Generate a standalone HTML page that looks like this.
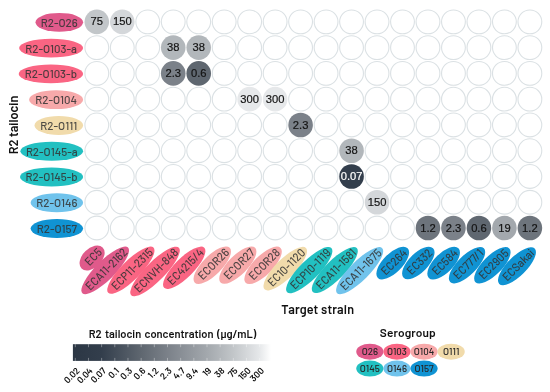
<!DOCTYPE html>
<html><head><meta charset="utf-8"><style>html,body{margin:0;padding:0;background:#fff;}svg{display:block;}</style></head><body>
<svg width="550" height="392" viewBox="0 0 550 392">
<defs><linearGradient id="cb" x1="0" y1="0" x2="1" y2="0"><stop offset="0" stop-color="#2b3644"></stop><stop offset="0.01211509338717815" stop-color="#2c3745"></stop><stop offset="0.14507824331145883" stop-color="#333e4c"></stop><stop offset="0.3445229681978797" stop-color="#5f6770"></stop><stop offset="0.4774861181221606" stop-color="#7b8189"></stop><stop offset="0.6769308430085815" stop-color="#a3a8ad"></stop><stop offset="0.809893992932862" stop-color="#c2c6c9"></stop><stop offset="0.9428571428571428" stop-color="#e6e8ea"></stop><stop offset="1" stop-color="#ffffff"></stop></linearGradient></defs>
<ellipse cx="59.30" cy="22.35" rx="23.80" ry="9.45" fill="#e05a8b"></ellipse>
<text x="59.30" y="26.74" text-anchor="middle" font-family="Barlow, 'Liberation Sans', sans-serif" font-weight="500" font-size="11.4" fill="#333333" fill-opacity="0.86" textLength="36.98" lengthAdjust="spacingAndGlyphs">R2-O26</text>
<ellipse cx="51.10" cy="48.12" rx="32.00" ry="9.45" fill="#fa6583"></ellipse>
<text x="51.10" y="52.51" text-anchor="middle" font-family="Barlow, 'Liberation Sans', sans-serif" font-weight="500" font-size="11.4" fill="#333333" fill-opacity="0.86" textLength="51.70" lengthAdjust="spacingAndGlyphs">R2-O103-a</text>
<ellipse cx="50.90" cy="73.89" rx="32.20" ry="9.45" fill="#fa6583"></ellipse>
<text x="50.90" y="78.28" text-anchor="middle" font-family="Barlow, 'Liberation Sans', sans-serif" font-weight="500" font-size="11.4" fill="#333333" fill-opacity="0.86" textLength="52.11" lengthAdjust="spacingAndGlyphs">R2-O103-b</text>
<ellipse cx="56.10" cy="99.66" rx="27.00" ry="9.45" fill="#f7a9aa"></ellipse>
<text x="56.10" y="104.05" text-anchor="middle" font-family="Barlow, 'Liberation Sans', sans-serif" font-weight="500" font-size="11.4" fill="#333333" fill-opacity="0.86" textLength="41.78" lengthAdjust="spacingAndGlyphs">R2-O104</text>
<ellipse cx="58.80" cy="125.43" rx="24.30" ry="9.45" fill="#f1dbab"></ellipse>
<text x="58.80" y="129.82" text-anchor="middle" font-family="Barlow, 'Liberation Sans', sans-serif" font-weight="500" font-size="11.4" fill="#333333" fill-opacity="0.86" textLength="36.95" lengthAdjust="spacingAndGlyphs">R2-O111</text>
<ellipse cx="51.75" cy="151.20" rx="31.35" ry="9.45" fill="#22c0c1"></ellipse>
<text x="51.75" y="155.59" text-anchor="middle" font-family="Barlow, 'Liberation Sans', sans-serif" font-weight="500" font-size="11.4" fill="#333333" fill-opacity="0.86" textLength="51.73" lengthAdjust="spacingAndGlyphs">R2-O145-a</text>
<ellipse cx="51.55" cy="176.97" rx="31.55" ry="9.45" fill="#22c0c1"></ellipse>
<text x="51.55" y="181.36" text-anchor="middle" font-family="Barlow, 'Liberation Sans', sans-serif" font-weight="500" font-size="11.4" fill="#333333" fill-opacity="0.86" textLength="52.14" lengthAdjust="spacingAndGlyphs">R2-O145-b</text>
<ellipse cx="56.85" cy="202.74" rx="26.25" ry="9.45" fill="#70c3ec"></ellipse>
<text x="56.85" y="207.13" text-anchor="middle" font-family="Barlow, 'Liberation Sans', sans-serif" font-weight="500" font-size="11.4" fill="#333333" fill-opacity="0.86" textLength="41.28" lengthAdjust="spacingAndGlyphs">R2-O146</text>
<ellipse cx="56.85" cy="228.51" rx="26.25" ry="9.45" fill="#1093d3"></ellipse>
<text x="56.85" y="232.90" text-anchor="middle" font-family="Barlow, 'Liberation Sans', sans-serif" font-weight="500" font-size="11.4" fill="#333333" fill-opacity="0.86" textLength="40.28" lengthAdjust="spacingAndGlyphs">R2-O157</text>
<circle cx="96.80" cy="21.85" r="12.3" fill="#c2c6c9"></circle>
<text x="96.80" y="25.45" text-anchor="middle" font-family="'Liberation Sans', Arial, sans-serif" font-size="11.2" fill="#141414" stroke="#141414" stroke-width="0.2">75</text>
<circle cx="122.28" cy="21.85" r="12.3" fill="#d4d7da"></circle>
<text x="122.28" y="25.45" text-anchor="middle" font-family="'Liberation Sans', Arial, sans-serif" font-size="11.2" fill="#141414" stroke="#141414" stroke-width="0.2">150</text>
<circle cx="147.75" cy="21.85" r="11.9" fill="#fff" stroke="#dbe1e4" stroke-width="1.1"></circle>
<circle cx="173.23" cy="21.85" r="11.9" fill="#fff" stroke="#dbe1e4" stroke-width="1.1"></circle>
<circle cx="198.70" cy="21.85" r="11.9" fill="#fff" stroke="#dbe1e4" stroke-width="1.1"></circle>
<circle cx="224.18" cy="21.85" r="11.9" fill="#fff" stroke="#dbe1e4" stroke-width="1.1"></circle>
<circle cx="249.65" cy="21.85" r="11.9" fill="#fff" stroke="#dbe1e4" stroke-width="1.1"></circle>
<circle cx="275.12" cy="21.85" r="11.9" fill="#fff" stroke="#dbe1e4" stroke-width="1.1"></circle>
<circle cx="300.60" cy="21.85" r="11.9" fill="#fff" stroke="#dbe1e4" stroke-width="1.1"></circle>
<circle cx="326.07" cy="21.85" r="11.9" fill="#fff" stroke="#dbe1e4" stroke-width="1.1"></circle>
<circle cx="351.55" cy="21.85" r="11.9" fill="#fff" stroke="#dbe1e4" stroke-width="1.1"></circle>
<circle cx="377.03" cy="21.85" r="11.9" fill="#fff" stroke="#dbe1e4" stroke-width="1.1"></circle>
<circle cx="402.50" cy="21.85" r="11.9" fill="#fff" stroke="#dbe1e4" stroke-width="1.1"></circle>
<circle cx="427.98" cy="21.85" r="11.9" fill="#fff" stroke="#dbe1e4" stroke-width="1.1"></circle>
<circle cx="453.45" cy="21.85" r="11.9" fill="#fff" stroke="#dbe1e4" stroke-width="1.1"></circle>
<circle cx="478.93" cy="21.85" r="11.9" fill="#fff" stroke="#dbe1e4" stroke-width="1.1"></circle>
<circle cx="504.40" cy="21.85" r="11.9" fill="#fff" stroke="#dbe1e4" stroke-width="1.1"></circle>
<circle cx="529.88" cy="21.85" r="11.9" fill="#fff" stroke="#dbe1e4" stroke-width="1.1"></circle>
<circle cx="96.80" cy="47.62" r="11.9" fill="#fff" stroke="#dbe1e4" stroke-width="1.1"></circle>
<circle cx="122.28" cy="47.62" r="11.9" fill="#fff" stroke="#dbe1e4" stroke-width="1.1"></circle>
<circle cx="147.75" cy="47.62" r="11.9" fill="#fff" stroke="#dbe1e4" stroke-width="1.1"></circle>
<circle cx="173.23" cy="47.62" r="12.3" fill="#b2b7bb"></circle>
<text x="173.23" y="51.22" text-anchor="middle" font-family="'Liberation Sans', Arial, sans-serif" font-size="11.2" fill="#141414" stroke="#141414" stroke-width="0.2">38</text>
<circle cx="198.70" cy="47.62" r="12.3" fill="#b2b7bb"></circle>
<text x="198.70" y="51.22" text-anchor="middle" font-family="'Liberation Sans', Arial, sans-serif" font-size="11.2" fill="#141414" stroke="#141414" stroke-width="0.2">38</text>
<circle cx="224.18" cy="47.62" r="11.9" fill="#fff" stroke="#dbe1e4" stroke-width="1.1"></circle>
<circle cx="249.65" cy="47.62" r="11.9" fill="#fff" stroke="#dbe1e4" stroke-width="1.1"></circle>
<circle cx="275.12" cy="47.62" r="11.9" fill="#fff" stroke="#dbe1e4" stroke-width="1.1"></circle>
<circle cx="300.60" cy="47.62" r="11.9" fill="#fff" stroke="#dbe1e4" stroke-width="1.1"></circle>
<circle cx="326.07" cy="47.62" r="11.9" fill="#fff" stroke="#dbe1e4" stroke-width="1.1"></circle>
<circle cx="351.55" cy="47.62" r="11.9" fill="#fff" stroke="#dbe1e4" stroke-width="1.1"></circle>
<circle cx="377.03" cy="47.62" r="11.9" fill="#fff" stroke="#dbe1e4" stroke-width="1.1"></circle>
<circle cx="402.50" cy="47.62" r="11.9" fill="#fff" stroke="#dbe1e4" stroke-width="1.1"></circle>
<circle cx="427.98" cy="47.62" r="11.9" fill="#fff" stroke="#dbe1e4" stroke-width="1.1"></circle>
<circle cx="453.45" cy="47.62" r="11.9" fill="#fff" stroke="#dbe1e4" stroke-width="1.1"></circle>
<circle cx="478.93" cy="47.62" r="11.9" fill="#fff" stroke="#dbe1e4" stroke-width="1.1"></circle>
<circle cx="504.40" cy="47.62" r="11.9" fill="#fff" stroke="#dbe1e4" stroke-width="1.1"></circle>
<circle cx="529.88" cy="47.62" r="11.9" fill="#fff" stroke="#dbe1e4" stroke-width="1.1"></circle>
<circle cx="96.80" cy="73.39" r="11.9" fill="#fff" stroke="#dbe1e4" stroke-width="1.1"></circle>
<circle cx="122.28" cy="73.39" r="11.9" fill="#fff" stroke="#dbe1e4" stroke-width="1.1"></circle>
<circle cx="147.75" cy="73.39" r="11.9" fill="#fff" stroke="#dbe1e4" stroke-width="1.1"></circle>
<circle cx="173.23" cy="73.39" r="12.3" fill="#7b8189"></circle>
<text x="173.23" y="76.99" text-anchor="middle" font-family="'Liberation Sans', Arial, sans-serif" font-size="11.2" fill="#141414" stroke="#141414" stroke-width="0.2">2.3</text>
<circle cx="198.70" cy="73.39" r="12.3" fill="#5f6770"></circle>
<text x="198.70" y="76.99" text-anchor="middle" font-family="'Liberation Sans', Arial, sans-serif" font-size="11.2" fill="#141414" stroke="#141414" stroke-width="0.2">0.6</text>
<circle cx="224.18" cy="73.39" r="11.9" fill="#fff" stroke="#dbe1e4" stroke-width="1.1"></circle>
<circle cx="249.65" cy="73.39" r="11.9" fill="#fff" stroke="#dbe1e4" stroke-width="1.1"></circle>
<circle cx="275.12" cy="73.39" r="11.9" fill="#fff" stroke="#dbe1e4" stroke-width="1.1"></circle>
<circle cx="300.60" cy="73.39" r="11.9" fill="#fff" stroke="#dbe1e4" stroke-width="1.1"></circle>
<circle cx="326.07" cy="73.39" r="11.9" fill="#fff" stroke="#dbe1e4" stroke-width="1.1"></circle>
<circle cx="351.55" cy="73.39" r="11.9" fill="#fff" stroke="#dbe1e4" stroke-width="1.1"></circle>
<circle cx="377.03" cy="73.39" r="11.9" fill="#fff" stroke="#dbe1e4" stroke-width="1.1"></circle>
<circle cx="402.50" cy="73.39" r="11.9" fill="#fff" stroke="#dbe1e4" stroke-width="1.1"></circle>
<circle cx="427.98" cy="73.39" r="11.9" fill="#fff" stroke="#dbe1e4" stroke-width="1.1"></circle>
<circle cx="453.45" cy="73.39" r="11.9" fill="#fff" stroke="#dbe1e4" stroke-width="1.1"></circle>
<circle cx="478.93" cy="73.39" r="11.9" fill="#fff" stroke="#dbe1e4" stroke-width="1.1"></circle>
<circle cx="504.40" cy="73.39" r="11.9" fill="#fff" stroke="#dbe1e4" stroke-width="1.1"></circle>
<circle cx="529.88" cy="73.39" r="11.9" fill="#fff" stroke="#dbe1e4" stroke-width="1.1"></circle>
<circle cx="96.80" cy="99.16" r="11.9" fill="#fff" stroke="#dbe1e4" stroke-width="1.1"></circle>
<circle cx="122.28" cy="99.16" r="11.9" fill="#fff" stroke="#dbe1e4" stroke-width="1.1"></circle>
<circle cx="147.75" cy="99.16" r="11.9" fill="#fff" stroke="#dbe1e4" stroke-width="1.1"></circle>
<circle cx="173.23" cy="99.16" r="11.9" fill="#fff" stroke="#dbe1e4" stroke-width="1.1"></circle>
<circle cx="198.70" cy="99.16" r="11.9" fill="#fff" stroke="#dbe1e4" stroke-width="1.1"></circle>
<circle cx="224.18" cy="99.16" r="11.9" fill="#fff" stroke="#dbe1e4" stroke-width="1.1"></circle>
<circle cx="249.65" cy="99.16" r="12.3" fill="#e6e8ea"></circle>
<text x="249.65" y="102.76" text-anchor="middle" font-family="'Liberation Sans', Arial, sans-serif" font-size="11.2" fill="#141414" stroke="#141414" stroke-width="0.2">300</text>
<circle cx="275.12" cy="99.16" r="12.3" fill="#e6e8ea"></circle>
<text x="275.12" y="102.76" text-anchor="middle" font-family="'Liberation Sans', Arial, sans-serif" font-size="11.2" fill="#141414" stroke="#141414" stroke-width="0.2">300</text>
<circle cx="300.60" cy="99.16" r="11.9" fill="#fff" stroke="#dbe1e4" stroke-width="1.1"></circle>
<circle cx="326.07" cy="99.16" r="11.9" fill="#fff" stroke="#dbe1e4" stroke-width="1.1"></circle>
<circle cx="351.55" cy="99.16" r="11.9" fill="#fff" stroke="#dbe1e4" stroke-width="1.1"></circle>
<circle cx="377.03" cy="99.16" r="11.9" fill="#fff" stroke="#dbe1e4" stroke-width="1.1"></circle>
<circle cx="402.50" cy="99.16" r="11.9" fill="#fff" stroke="#dbe1e4" stroke-width="1.1"></circle>
<circle cx="427.98" cy="99.16" r="11.9" fill="#fff" stroke="#dbe1e4" stroke-width="1.1"></circle>
<circle cx="453.45" cy="99.16" r="11.9" fill="#fff" stroke="#dbe1e4" stroke-width="1.1"></circle>
<circle cx="478.93" cy="99.16" r="11.9" fill="#fff" stroke="#dbe1e4" stroke-width="1.1"></circle>
<circle cx="504.40" cy="99.16" r="11.9" fill="#fff" stroke="#dbe1e4" stroke-width="1.1"></circle>
<circle cx="529.88" cy="99.16" r="11.9" fill="#fff" stroke="#dbe1e4" stroke-width="1.1"></circle>
<circle cx="96.80" cy="124.93" r="11.9" fill="#fff" stroke="#dbe1e4" stroke-width="1.1"></circle>
<circle cx="122.28" cy="124.93" r="11.9" fill="#fff" stroke="#dbe1e4" stroke-width="1.1"></circle>
<circle cx="147.75" cy="124.93" r="11.9" fill="#fff" stroke="#dbe1e4" stroke-width="1.1"></circle>
<circle cx="173.23" cy="124.93" r="11.9" fill="#fff" stroke="#dbe1e4" stroke-width="1.1"></circle>
<circle cx="198.70" cy="124.93" r="11.9" fill="#fff" stroke="#dbe1e4" stroke-width="1.1"></circle>
<circle cx="224.18" cy="124.93" r="11.9" fill="#fff" stroke="#dbe1e4" stroke-width="1.1"></circle>
<circle cx="249.65" cy="124.93" r="11.9" fill="#fff" stroke="#dbe1e4" stroke-width="1.1"></circle>
<circle cx="275.12" cy="124.93" r="11.9" fill="#fff" stroke="#dbe1e4" stroke-width="1.1"></circle>
<circle cx="300.60" cy="124.93" r="12.3" fill="#7b8189"></circle>
<text x="300.60" y="128.53" text-anchor="middle" font-family="'Liberation Sans', Arial, sans-serif" font-size="11.2" fill="#141414" stroke="#141414" stroke-width="0.2">2.3</text>
<circle cx="326.07" cy="124.93" r="11.9" fill="#fff" stroke="#dbe1e4" stroke-width="1.1"></circle>
<circle cx="351.55" cy="124.93" r="11.9" fill="#fff" stroke="#dbe1e4" stroke-width="1.1"></circle>
<circle cx="377.03" cy="124.93" r="11.9" fill="#fff" stroke="#dbe1e4" stroke-width="1.1"></circle>
<circle cx="402.50" cy="124.93" r="11.9" fill="#fff" stroke="#dbe1e4" stroke-width="1.1"></circle>
<circle cx="427.98" cy="124.93" r="11.9" fill="#fff" stroke="#dbe1e4" stroke-width="1.1"></circle>
<circle cx="453.45" cy="124.93" r="11.9" fill="#fff" stroke="#dbe1e4" stroke-width="1.1"></circle>
<circle cx="478.93" cy="124.93" r="11.9" fill="#fff" stroke="#dbe1e4" stroke-width="1.1"></circle>
<circle cx="504.40" cy="124.93" r="11.9" fill="#fff" stroke="#dbe1e4" stroke-width="1.1"></circle>
<circle cx="529.88" cy="124.93" r="11.9" fill="#fff" stroke="#dbe1e4" stroke-width="1.1"></circle>
<circle cx="96.80" cy="150.70" r="11.9" fill="#fff" stroke="#dbe1e4" stroke-width="1.1"></circle>
<circle cx="122.28" cy="150.70" r="11.9" fill="#fff" stroke="#dbe1e4" stroke-width="1.1"></circle>
<circle cx="147.75" cy="150.70" r="11.9" fill="#fff" stroke="#dbe1e4" stroke-width="1.1"></circle>
<circle cx="173.23" cy="150.70" r="11.9" fill="#fff" stroke="#dbe1e4" stroke-width="1.1"></circle>
<circle cx="198.70" cy="150.70" r="11.9" fill="#fff" stroke="#dbe1e4" stroke-width="1.1"></circle>
<circle cx="224.18" cy="150.70" r="11.9" fill="#fff" stroke="#dbe1e4" stroke-width="1.1"></circle>
<circle cx="249.65" cy="150.70" r="11.9" fill="#fff" stroke="#dbe1e4" stroke-width="1.1"></circle>
<circle cx="275.12" cy="150.70" r="11.9" fill="#fff" stroke="#dbe1e4" stroke-width="1.1"></circle>
<circle cx="300.60" cy="150.70" r="11.9" fill="#fff" stroke="#dbe1e4" stroke-width="1.1"></circle>
<circle cx="326.07" cy="150.70" r="11.9" fill="#fff" stroke="#dbe1e4" stroke-width="1.1"></circle>
<circle cx="351.55" cy="150.70" r="12.3" fill="#b2b7bb"></circle>
<text x="351.55" y="154.30" text-anchor="middle" font-family="'Liberation Sans', Arial, sans-serif" font-size="11.2" fill="#141414" stroke="#141414" stroke-width="0.2">38</text>
<circle cx="377.03" cy="150.70" r="11.9" fill="#fff" stroke="#dbe1e4" stroke-width="1.1"></circle>
<circle cx="402.50" cy="150.70" r="11.9" fill="#fff" stroke="#dbe1e4" stroke-width="1.1"></circle>
<circle cx="427.98" cy="150.70" r="11.9" fill="#fff" stroke="#dbe1e4" stroke-width="1.1"></circle>
<circle cx="453.45" cy="150.70" r="11.9" fill="#fff" stroke="#dbe1e4" stroke-width="1.1"></circle>
<circle cx="478.93" cy="150.70" r="11.9" fill="#fff" stroke="#dbe1e4" stroke-width="1.1"></circle>
<circle cx="504.40" cy="150.70" r="11.9" fill="#fff" stroke="#dbe1e4" stroke-width="1.1"></circle>
<circle cx="529.88" cy="150.70" r="11.9" fill="#fff" stroke="#dbe1e4" stroke-width="1.1"></circle>
<circle cx="96.80" cy="176.47" r="11.9" fill="#fff" stroke="#dbe1e4" stroke-width="1.1"></circle>
<circle cx="122.28" cy="176.47" r="11.9" fill="#fff" stroke="#dbe1e4" stroke-width="1.1"></circle>
<circle cx="147.75" cy="176.47" r="11.9" fill="#fff" stroke="#dbe1e4" stroke-width="1.1"></circle>
<circle cx="173.23" cy="176.47" r="11.9" fill="#fff" stroke="#dbe1e4" stroke-width="1.1"></circle>
<circle cx="198.70" cy="176.47" r="11.9" fill="#fff" stroke="#dbe1e4" stroke-width="1.1"></circle>
<circle cx="224.18" cy="176.47" r="11.9" fill="#fff" stroke="#dbe1e4" stroke-width="1.1"></circle>
<circle cx="249.65" cy="176.47" r="11.9" fill="#fff" stroke="#dbe1e4" stroke-width="1.1"></circle>
<circle cx="275.12" cy="176.47" r="11.9" fill="#fff" stroke="#dbe1e4" stroke-width="1.1"></circle>
<circle cx="300.60" cy="176.47" r="11.9" fill="#fff" stroke="#dbe1e4" stroke-width="1.1"></circle>
<circle cx="326.07" cy="176.47" r="11.9" fill="#fff" stroke="#dbe1e4" stroke-width="1.1"></circle>
<circle cx="351.55" cy="176.47" r="12.3" fill="#333e4c"></circle>
<text x="351.55" y="180.07" text-anchor="middle" font-family="'Liberation Sans', Arial, sans-serif" font-size="11.2" fill="#ffffff" stroke="#ffffff" stroke-width="0.2">0.07</text>
<circle cx="377.03" cy="176.47" r="11.9" fill="#fff" stroke="#dbe1e4" stroke-width="1.1"></circle>
<circle cx="402.50" cy="176.47" r="11.9" fill="#fff" stroke="#dbe1e4" stroke-width="1.1"></circle>
<circle cx="427.98" cy="176.47" r="11.9" fill="#fff" stroke="#dbe1e4" stroke-width="1.1"></circle>
<circle cx="453.45" cy="176.47" r="11.9" fill="#fff" stroke="#dbe1e4" stroke-width="1.1"></circle>
<circle cx="478.93" cy="176.47" r="11.9" fill="#fff" stroke="#dbe1e4" stroke-width="1.1"></circle>
<circle cx="504.40" cy="176.47" r="11.9" fill="#fff" stroke="#dbe1e4" stroke-width="1.1"></circle>
<circle cx="529.88" cy="176.47" r="11.9" fill="#fff" stroke="#dbe1e4" stroke-width="1.1"></circle>
<circle cx="96.80" cy="202.24" r="11.9" fill="#fff" stroke="#dbe1e4" stroke-width="1.1"></circle>
<circle cx="122.28" cy="202.24" r="11.9" fill="#fff" stroke="#dbe1e4" stroke-width="1.1"></circle>
<circle cx="147.75" cy="202.24" r="11.9" fill="#fff" stroke="#dbe1e4" stroke-width="1.1"></circle>
<circle cx="173.23" cy="202.24" r="11.9" fill="#fff" stroke="#dbe1e4" stroke-width="1.1"></circle>
<circle cx="198.70" cy="202.24" r="11.9" fill="#fff" stroke="#dbe1e4" stroke-width="1.1"></circle>
<circle cx="224.18" cy="202.24" r="11.9" fill="#fff" stroke="#dbe1e4" stroke-width="1.1"></circle>
<circle cx="249.65" cy="202.24" r="11.9" fill="#fff" stroke="#dbe1e4" stroke-width="1.1"></circle>
<circle cx="275.12" cy="202.24" r="11.9" fill="#fff" stroke="#dbe1e4" stroke-width="1.1"></circle>
<circle cx="300.60" cy="202.24" r="11.9" fill="#fff" stroke="#dbe1e4" stroke-width="1.1"></circle>
<circle cx="326.07" cy="202.24" r="11.9" fill="#fff" stroke="#dbe1e4" stroke-width="1.1"></circle>
<circle cx="351.55" cy="202.24" r="11.9" fill="#fff" stroke="#dbe1e4" stroke-width="1.1"></circle>
<circle cx="377.03" cy="202.24" r="12.3" fill="#d4d7da"></circle>
<text x="377.03" y="205.84" text-anchor="middle" font-family="'Liberation Sans', Arial, sans-serif" font-size="11.2" fill="#141414" stroke="#141414" stroke-width="0.2">150</text>
<circle cx="402.50" cy="202.24" r="11.9" fill="#fff" stroke="#dbe1e4" stroke-width="1.1"></circle>
<circle cx="427.98" cy="202.24" r="11.9" fill="#fff" stroke="#dbe1e4" stroke-width="1.1"></circle>
<circle cx="453.45" cy="202.24" r="11.9" fill="#fff" stroke="#dbe1e4" stroke-width="1.1"></circle>
<circle cx="478.93" cy="202.24" r="11.9" fill="#fff" stroke="#dbe1e4" stroke-width="1.1"></circle>
<circle cx="504.40" cy="202.24" r="11.9" fill="#fff" stroke="#dbe1e4" stroke-width="1.1"></circle>
<circle cx="529.88" cy="202.24" r="11.9" fill="#fff" stroke="#dbe1e4" stroke-width="1.1"></circle>
<circle cx="96.80" cy="228.01" r="11.9" fill="#fff" stroke="#dbe1e4" stroke-width="1.1"></circle>
<circle cx="122.28" cy="228.01" r="11.9" fill="#fff" stroke="#dbe1e4" stroke-width="1.1"></circle>
<circle cx="147.75" cy="228.01" r="11.9" fill="#fff" stroke="#dbe1e4" stroke-width="1.1"></circle>
<circle cx="173.23" cy="228.01" r="11.9" fill="#fff" stroke="#dbe1e4" stroke-width="1.1"></circle>
<circle cx="198.70" cy="228.01" r="11.9" fill="#fff" stroke="#dbe1e4" stroke-width="1.1"></circle>
<circle cx="224.18" cy="228.01" r="11.9" fill="#fff" stroke="#dbe1e4" stroke-width="1.1"></circle>
<circle cx="249.65" cy="228.01" r="11.9" fill="#fff" stroke="#dbe1e4" stroke-width="1.1"></circle>
<circle cx="275.12" cy="228.01" r="11.9" fill="#fff" stroke="#dbe1e4" stroke-width="1.1"></circle>
<circle cx="300.60" cy="228.01" r="11.9" fill="#fff" stroke="#dbe1e4" stroke-width="1.1"></circle>
<circle cx="326.07" cy="228.01" r="11.9" fill="#fff" stroke="#dbe1e4" stroke-width="1.1"></circle>
<circle cx="351.55" cy="228.01" r="11.9" fill="#fff" stroke="#dbe1e4" stroke-width="1.1"></circle>
<circle cx="377.03" cy="228.01" r="11.9" fill="#fff" stroke="#dbe1e4" stroke-width="1.1"></circle>
<circle cx="402.50" cy="228.01" r="11.9" fill="#fff" stroke="#dbe1e4" stroke-width="1.1"></circle>
<circle cx="427.98" cy="228.01" r="12.3" fill="#6d747c"></circle>
<text x="427.98" y="231.61" text-anchor="middle" font-family="'Liberation Sans', Arial, sans-serif" font-size="11.2" fill="#141414" stroke="#141414" stroke-width="0.2">1.2</text>
<circle cx="453.45" cy="228.01" r="12.3" fill="#7b8189"></circle>
<text x="453.45" y="231.61" text-anchor="middle" font-family="'Liberation Sans', Arial, sans-serif" font-size="11.2" fill="#141414" stroke="#141414" stroke-width="0.2">2.3</text>
<circle cx="478.93" cy="228.01" r="12.3" fill="#5f6770"></circle>
<text x="478.93" y="231.61" text-anchor="middle" font-family="'Liberation Sans', Arial, sans-serif" font-size="11.2" fill="#141414" stroke="#141414" stroke-width="0.2">0.6</text>
<circle cx="504.40" cy="228.01" r="12.3" fill="#a3a8ad"></circle>
<text x="504.40" y="231.61" text-anchor="middle" font-family="'Liberation Sans', Arial, sans-serif" font-size="11.2" fill="#141414" stroke="#141414" stroke-width="0.2">19</text>
<circle cx="529.88" cy="228.01" r="12.3" fill="#6d747c"></circle>
<text x="529.88" y="231.61" text-anchor="middle" font-family="'Liberation Sans', Arial, sans-serif" font-size="11.2" fill="#141414" stroke="#141414" stroke-width="0.2">1.2</text>
<g transform="translate(92.66,257.44) rotate(-45)"><ellipse cx="-0.8" cy="0" rx="14.91" ry="9.6" fill="#e05a8b"></ellipse><text x="0.9" y="4.09" text-anchor="middle" font-family="Barlow, 'Liberation Sans', sans-serif" font-weight="500" font-size="11.7" textLength="19.02" lengthAdjust="spacingAndGlyphs" fill="#333333" fill-opacity="0.86">EC5</text></g>
<g transform="translate(105.78,269.79) rotate(-45)"><ellipse cx="-0.8" cy="0" rx="32.29" ry="9.6" fill="#e05a8b"></ellipse><text x="0.9" y="4.09" text-anchor="middle" font-family="Barlow, 'Liberation Sans', sans-serif" font-weight="500" font-size="11.7" textLength="53.78" lengthAdjust="spacingAndGlyphs" fill="#333333" fill-opacity="0.86">ECA11-2162</text></g>
<g transform="translate(131.41,269.64) rotate(-45)"><ellipse cx="-0.8" cy="0" rx="31.99" ry="9.6" fill="#fa6583"></ellipse><text x="0.9" y="4.09" text-anchor="middle" font-family="Barlow, 'Liberation Sans', sans-serif" font-weight="500" font-size="11.7" textLength="53.19" lengthAdjust="spacingAndGlyphs" fill="#333333" fill-opacity="0.86">ECP11-2315</text></g>
<g transform="translate(155.60,270.92) rotate(-45)"><ellipse cx="-0.8" cy="0" rx="33.72" ry="9.6" fill="#fa6583"></ellipse><text x="0.9" y="4.09" text-anchor="middle" font-family="Barlow, 'Liberation Sans', sans-serif" font-weight="500" font-size="11.7" textLength="56.64" lengthAdjust="spacingAndGlyphs" fill="#333333" fill-opacity="0.86">ECNVH-848</text></g>
<g transform="translate(184.79,267.21) rotate(-45)"><ellipse cx="-0.8" cy="0" rx="28.38" ry="9.6" fill="#fa6583"></ellipse><text x="0.9" y="4.09" text-anchor="middle" font-family="Barlow, 'Liberation Sans', sans-serif" font-weight="500" font-size="11.7" textLength="45.97" lengthAdjust="spacingAndGlyphs" fill="#333333" fill-opacity="0.86">EC4215/4</text></g>
<g transform="translate(212.82,264.66) rotate(-45)"><ellipse cx="-0.8" cy="0" rx="24.69" ry="9.6" fill="#f7a9aa"></ellipse><text x="0.9" y="4.09" text-anchor="middle" font-family="Barlow, 'Liberation Sans', sans-serif" font-weight="500" font-size="11.7" textLength="38.58" lengthAdjust="spacingAndGlyphs" fill="#333333" fill-opacity="0.86">ECOR26</text></g>
<g transform="translate(238.39,264.56) rotate(-45)"><ellipse cx="-0.8" cy="0" rx="24.46" ry="9.6" fill="#f7a9aa"></ellipse><text x="0.9" y="4.09" text-anchor="middle" font-family="Barlow, 'Liberation Sans', sans-serif" font-weight="500" font-size="11.7" textLength="38.12" lengthAdjust="spacingAndGlyphs" fill="#333333" fill-opacity="0.86">ECOR27</text></g>
<g transform="translate(263.63,264.79) rotate(-45)"><ellipse cx="-0.8" cy="0" rx="24.71" ry="9.6" fill="#f7a9aa"></ellipse><text x="0.9" y="4.09" text-anchor="middle" font-family="Barlow, 'Liberation Sans', sans-serif" font-weight="500" font-size="11.7" textLength="38.62" lengthAdjust="spacingAndGlyphs" fill="#333333" fill-opacity="0.86">ECOR28</text></g>
<g transform="translate(285.81,268.09) rotate(-45)"><ellipse cx="-0.8" cy="0" rx="29.28" ry="9.6" fill="#f1dbab"></ellipse><text x="0.9" y="4.09" text-anchor="middle" font-family="Barlow, 'Liberation Sans', sans-serif" font-weight="500" font-size="11.7" textLength="47.77" lengthAdjust="spacingAndGlyphs" fill="#333333" fill-opacity="0.86">EC10-1120</text></g>
<g transform="translate(309.81,269.56) rotate(-45)"><ellipse cx="-0.8" cy="0" rx="31.28" ry="9.6" fill="#22c0c1"></ellipse><text x="0.9" y="4.09" text-anchor="middle" font-family="Barlow, 'Liberation Sans', sans-serif" font-weight="500" font-size="11.7" textLength="51.77" lengthAdjust="spacingAndGlyphs" fill="#333333" fill-opacity="0.86">ECP10-1119</text></g>
<g transform="translate(335.37,269.48) rotate(-45)"><ellipse cx="-0.8" cy="0" rx="31.08" ry="9.6" fill="#22c0c1"></ellipse><text x="0.9" y="4.09" text-anchor="middle" font-family="Barlow, 'Liberation Sans', sans-serif" font-weight="500" font-size="11.7" textLength="51.36" lengthAdjust="spacingAndGlyphs" fill="#333333" fill-opacity="0.86">ECA11-1581</text></g>
<g transform="translate(360.21,270.11) rotate(-45)"><ellipse cx="-0.8" cy="0" rx="31.89" ry="9.6" fill="#70c3ec"></ellipse><text x="0.9" y="4.09" text-anchor="middle" font-family="Barlow, 'Liberation Sans', sans-serif" font-weight="500" font-size="11.7" textLength="52.98" lengthAdjust="spacingAndGlyphs" fill="#333333" fill-opacity="0.86">ECA11-1675</text></g>
<g transform="translate(393.31,262.49) rotate(-45)"><ellipse cx="-0.8" cy="0" rx="21.03" ry="9.6" fill="#1093d3"></ellipse><text x="0.9" y="4.09" text-anchor="middle" font-family="Barlow, 'Liberation Sans', sans-serif" font-weight="500" font-size="11.7" textLength="31.27" lengthAdjust="spacingAndGlyphs" fill="#333333" fill-opacity="0.86">EC264</text></g>
<g transform="translate(418.89,262.38) rotate(-45)"><ellipse cx="-0.8" cy="0" rx="20.79" ry="9.6" fill="#1093d3"></ellipse><text x="0.9" y="4.09" text-anchor="middle" font-family="Barlow, 'Liberation Sans', sans-serif" font-weight="500" font-size="11.7" textLength="30.78" lengthAdjust="spacingAndGlyphs" fill="#333333" fill-opacity="0.86">EC332</text></g>
<g transform="translate(444.20,262.55) rotate(-45)"><ellipse cx="-0.8" cy="0" rx="20.94" ry="9.6" fill="#1093d3"></ellipse><text x="0.9" y="4.09" text-anchor="middle" font-family="Barlow, 'Liberation Sans', sans-serif" font-weight="500" font-size="11.7" textLength="31.08" lengthAdjust="spacingAndGlyphs" fill="#333333" fill-opacity="0.86">EC584</text></g>
<g transform="translate(467.57,264.66) rotate(-45)"><ellipse cx="-0.8" cy="0" rx="23.84" ry="9.6" fill="#1093d3"></ellipse><text x="0.9" y="4.09" text-anchor="middle" font-family="Barlow, 'Liberation Sans', sans-serif" font-weight="500" font-size="11.7" textLength="36.88" lengthAdjust="spacingAndGlyphs" fill="#333333" fill-opacity="0.86">EC777/1</text></g>
<g transform="translate(492.94,264.76) rotate(-45)"><ellipse cx="-0.8" cy="0" rx="23.90" ry="9.6" fill="#1093d3"></ellipse><text x="0.9" y="4.09" text-anchor="middle" font-family="Barlow, 'Liberation Sans', sans-serif" font-weight="500" font-size="11.7" textLength="37.00" lengthAdjust="spacingAndGlyphs" fill="#333333" fill-opacity="0.86">EC2905</text></g>
<g transform="translate(517.52,265.65) rotate(-45)"><ellipse cx="-0.8" cy="0" rx="25.08" ry="9.6" fill="#1093d3"></ellipse><text x="0.9" y="4.09" text-anchor="middle" font-family="Barlow, 'Liberation Sans', sans-serif" font-weight="500" font-size="11.7" textLength="39.36" lengthAdjust="spacingAndGlyphs" fill="#333333" fill-opacity="0.86">ECSakai</text></g>
<text transform="translate(18.3,124.9) rotate(-90)" text-anchor="middle" font-family="Barlow, 'Liberation Sans', sans-serif" font-weight="600" font-size="13.7" textLength="58.6" lengthAdjust="spacingAndGlyphs" fill="#111">R2 tailocin</text>
<text x="317.7" y="314.3" text-anchor="middle" font-family="Barlow, 'Liberation Sans', sans-serif" font-weight="600" font-size="12.6" letter-spacing="0.15" fill="#111" textLength="73.02" lengthAdjust="spacingAndGlyphs">Target strain</text>
<text x="172.5" y="337.7" text-anchor="middle" font-family="Barlow, 'Liberation Sans', sans-serif" font-weight="600" font-size="11.1" word-spacing="1.1" fill="#111" textLength="167.66" lengthAdjust="spacingAndGlyphs">R2 tailocin concentration (µg/mL)</text>
<rect x="72.9" y="344.2" width="198.10" height="16.70" fill="url(#cb)"></rect>
<line x1="75.30" y1="344.2" x2="75.30" y2="347.2" stroke="#ffffff" stroke-opacity="0.45" stroke-width="0.8"></line>
<line x1="75.30" y1="357.9" x2="75.30" y2="360.9" stroke="#ffffff" stroke-opacity="0.45" stroke-width="0.8"></line>
<text transform="translate(74.50,365.60) rotate(-45)" text-anchor="end" font-family="Barlow, 'Liberation Sans', sans-serif" font-weight="600" font-size="9.2" fill="#111" dy="8.1" textLength="17.75" lengthAdjust="spacingAndGlyphs">0.02</text>
<line x1="88.47" y1="344.2" x2="88.47" y2="347.2" stroke="#ffffff" stroke-opacity="0.45" stroke-width="0.8"></line>
<line x1="88.47" y1="357.9" x2="88.47" y2="360.9" stroke="#ffffff" stroke-opacity="0.45" stroke-width="0.8"></line>
<text transform="translate(87.67,365.60) rotate(-45)" text-anchor="end" font-family="Barlow, 'Liberation Sans', sans-serif" font-weight="600" font-size="9.2" fill="#111" dy="8.1" textLength="18.06" lengthAdjust="spacingAndGlyphs">0.04</text>
<line x1="101.64" y1="344.2" x2="101.64" y2="347.2" stroke="#ffffff" stroke-opacity="0.45" stroke-width="0.8"></line>
<line x1="101.64" y1="357.9" x2="101.64" y2="360.9" stroke="#ffffff" stroke-opacity="0.45" stroke-width="0.8"></line>
<text transform="translate(100.84,365.60) rotate(-45)" text-anchor="end" font-family="Barlow, 'Liberation Sans', sans-serif" font-weight="600" font-size="9.2" fill="#111" dy="8.1" textLength="17.17" lengthAdjust="spacingAndGlyphs">0.07</text>
<line x1="114.81" y1="344.2" x2="114.81" y2="347.2" stroke="#ffffff" stroke-opacity="0.45" stroke-width="0.8"></line>
<line x1="114.81" y1="357.9" x2="114.81" y2="360.9" stroke="#ffffff" stroke-opacity="0.45" stroke-width="0.8"></line>
<text transform="translate(114.01,365.60) rotate(-45)" text-anchor="end" font-family="Barlow, 'Liberation Sans', sans-serif" font-weight="600" font-size="9.2" fill="#111" dy="8.1" textLength="10.98" lengthAdjust="spacingAndGlyphs">0.1</text>
<line x1="127.98" y1="344.2" x2="127.98" y2="347.2" stroke="#ffffff" stroke-opacity="0.45" stroke-width="0.8"></line>
<line x1="127.98" y1="357.9" x2="127.98" y2="360.9" stroke="#ffffff" stroke-opacity="0.45" stroke-width="0.8"></line>
<text transform="translate(127.18,365.60) rotate(-45)" text-anchor="end" font-family="Barlow, 'Liberation Sans', sans-serif" font-weight="600" font-size="9.2" fill="#111" dy="8.1" textLength="12.61" lengthAdjust="spacingAndGlyphs">0.3</text>
<line x1="141.15" y1="344.2" x2="141.15" y2="347.2" stroke="#ffffff" stroke-opacity="0.45" stroke-width="0.8"></line>
<line x1="141.15" y1="357.9" x2="141.15" y2="360.9" stroke="#ffffff" stroke-opacity="0.45" stroke-width="0.8"></line>
<text transform="translate(140.35,365.60) rotate(-45)" text-anchor="end" font-family="Barlow, 'Liberation Sans', sans-serif" font-weight="600" font-size="9.2" fill="#111" dy="8.1" textLength="12.59" lengthAdjust="spacingAndGlyphs">0.6</text>
<line x1="154.32" y1="344.2" x2="154.32" y2="347.2" stroke="#ffffff" stroke-opacity="0.45" stroke-width="0.8"></line>
<line x1="154.32" y1="357.9" x2="154.32" y2="360.9" stroke="#ffffff" stroke-opacity="0.45" stroke-width="0.8"></line>
<text transform="translate(153.52,365.60) rotate(-45)" text-anchor="end" font-family="Barlow, 'Liberation Sans', sans-serif" font-weight="600" font-size="9.2" fill="#111" dy="8.1" textLength="10.83" lengthAdjust="spacingAndGlyphs">1.2</text>
<line x1="167.49" y1="344.2" x2="167.49" y2="347.2" stroke="#ffffff" stroke-opacity="0.45" stroke-width="0.8"></line>
<line x1="167.49" y1="357.9" x2="167.49" y2="360.9" stroke="#ffffff" stroke-opacity="0.45" stroke-width="0.8"></line>
<text transform="translate(166.69,365.60) rotate(-45)" text-anchor="end" font-family="Barlow, 'Liberation Sans', sans-serif" font-weight="600" font-size="9.2" fill="#111" dy="8.1" textLength="12.45" lengthAdjust="spacingAndGlyphs">2.3</text>
<line x1="180.66" y1="344.2" x2="180.66" y2="347.2" stroke="#ffffff" stroke-opacity="0.45" stroke-width="0.8"></line>
<line x1="180.66" y1="357.9" x2="180.66" y2="360.9" stroke="#ffffff" stroke-opacity="0.45" stroke-width="0.8"></line>
<text transform="translate(179.86,365.60) rotate(-45)" text-anchor="end" font-family="Barlow, 'Liberation Sans', sans-serif" font-weight="600" font-size="9.2" fill="#111" dy="8.1" textLength="12.38" lengthAdjust="spacingAndGlyphs">4.7</text>
<line x1="193.83" y1="344.2" x2="193.83" y2="347.2" stroke="#ffffff" stroke-opacity="0.45" stroke-width="0.8"></line>
<line x1="193.83" y1="357.9" x2="193.83" y2="360.9" stroke="#ffffff" stroke-opacity="0.45" stroke-width="0.8"></line>
<text transform="translate(193.03,365.60) rotate(-45)" text-anchor="end" font-family="Barlow, 'Liberation Sans', sans-serif" font-weight="600" font-size="9.2" fill="#111" dy="8.1" textLength="12.73" lengthAdjust="spacingAndGlyphs">9.4</text>
<line x1="207.00" y1="344.2" x2="207.00" y2="347.2" stroke="#ffffff" stroke-opacity="0.45" stroke-width="0.8"></line>
<line x1="207.00" y1="357.9" x2="207.00" y2="360.9" stroke="#ffffff" stroke-opacity="0.45" stroke-width="0.8"></line>
<text transform="translate(206.20,365.60) rotate(-45)" text-anchor="end" font-family="Barlow, 'Liberation Sans', sans-serif" font-weight="600" font-size="9.2" fill="#111" dy="8.1" textLength="8.09" lengthAdjust="spacingAndGlyphs">19</text>
<line x1="220.17" y1="344.2" x2="220.17" y2="347.2" stroke="#ffffff" stroke-opacity="0.45" stroke-width="0.8"></line>
<line x1="220.17" y1="357.9" x2="220.17" y2="360.9" stroke="#ffffff" stroke-opacity="0.45" stroke-width="0.8"></line>
<text transform="translate(219.37,365.60) rotate(-45)" text-anchor="end" font-family="Barlow, 'Liberation Sans', sans-serif" font-weight="600" font-size="9.2" fill="#111" dy="8.1" textLength="9.78" lengthAdjust="spacingAndGlyphs">38</text>
<line x1="233.34" y1="344.2" x2="233.34" y2="347.2" stroke="#ffffff" stroke-opacity="0.45" stroke-width="0.8"></line>
<line x1="233.34" y1="357.9" x2="233.34" y2="360.9" stroke="#ffffff" stroke-opacity="0.45" stroke-width="0.8"></line>
<text transform="translate(232.54,365.60) rotate(-45)" text-anchor="end" font-family="Barlow, 'Liberation Sans', sans-serif" font-weight="600" font-size="9.2" fill="#111" dy="8.1" textLength="9.36" lengthAdjust="spacingAndGlyphs">75</text>
<line x1="246.51" y1="344.2" x2="246.51" y2="347.2" stroke="#ffffff" stroke-opacity="0.45" stroke-width="0.8"></line>
<line x1="246.51" y1="357.9" x2="246.51" y2="360.9" stroke="#ffffff" stroke-opacity="0.45" stroke-width="0.8"></line>
<text transform="translate(245.71,365.60) rotate(-45)" text-anchor="end" font-family="Barlow, 'Liberation Sans', sans-serif" font-weight="600" font-size="9.2" fill="#111" dy="8.1" textLength="13.34" lengthAdjust="spacingAndGlyphs">150</text>
<line x1="259.68" y1="344.2" x2="259.68" y2="347.2" stroke="#ffffff" stroke-opacity="0.45" stroke-width="0.8"></line>
<line x1="259.68" y1="357.9" x2="259.68" y2="360.9" stroke="#ffffff" stroke-opacity="0.45" stroke-width="0.8"></line>
<text transform="translate(258.88,365.60) rotate(-45)" text-anchor="end" font-family="Barlow, 'Liberation Sans', sans-serif" font-weight="600" font-size="9.2" fill="#111" dy="8.1" textLength="15.33" lengthAdjust="spacingAndGlyphs">300</text>
<text x="407.8" y="337.1" text-anchor="middle" font-family="Barlow, 'Liberation Sans', sans-serif" font-weight="600" font-size="11.9" letter-spacing="0.1" fill="#111" textLength="55.95" lengthAdjust="spacingAndGlyphs">Serogroup</text>
<ellipse cx="369.85" cy="351.65" rx="13.6" ry="8.0" fill="#e05a8b"></ellipse>
<text x="369.85" y="354.95" text-anchor="middle" font-family="Barlow, 'Liberation Sans', sans-serif" font-weight="500" font-size="9.7" fill="#262626" textLength="16.38" lengthAdjust="spacingAndGlyphs">O26</text>
<ellipse cx="396.95" cy="351.65" rx="13.6" ry="8.0" fill="#fa6583"></ellipse>
<text x="396.95" y="354.95" text-anchor="middle" font-family="Barlow, 'Liberation Sans', sans-serif" font-weight="500" font-size="9.7" fill="#262626" textLength="20.00" lengthAdjust="spacingAndGlyphs">O103</text>
<ellipse cx="424.05" cy="351.65" rx="13.6" ry="8.0" fill="#f7a9aa"></ellipse>
<text x="424.05" y="354.95" text-anchor="middle" font-family="Barlow, 'Liberation Sans', sans-serif" font-weight="500" font-size="9.7" fill="#262626" textLength="20.45" lengthAdjust="spacingAndGlyphs">O104</text>
<ellipse cx="451.15" cy="351.65" rx="13.6" ry="8.0" fill="#f1dbab"></ellipse>
<text x="451.15" y="354.95" text-anchor="middle" font-family="Barlow, 'Liberation Sans', sans-serif" font-weight="500" font-size="9.7" fill="#262626" textLength="16.34" lengthAdjust="spacingAndGlyphs">O111</text>
<ellipse cx="369.85" cy="368.55" rx="13.6" ry="8.0" fill="#22c0c1"></ellipse>
<text x="369.85" y="371.85" text-anchor="middle" font-family="Barlow, 'Liberation Sans', sans-serif" font-weight="500" font-size="9.7" fill="#262626" textLength="20.03" lengthAdjust="spacingAndGlyphs">O145</text>
<ellipse cx="396.95" cy="368.55" rx="13.6" ry="8.0" fill="#70c3ec"></ellipse>
<text x="396.95" y="371.85" text-anchor="middle" font-family="Barlow, 'Liberation Sans', sans-serif" font-weight="500" font-size="9.7" fill="#262626" textLength="20.03" lengthAdjust="spacingAndGlyphs">O146</text>
<ellipse cx="424.05" cy="368.55" rx="13.6" ry="8.0" fill="#1093d3"></ellipse>
<text x="424.05" y="371.85" text-anchor="middle" font-family="Barlow, 'Liberation Sans', sans-serif" font-weight="500" font-size="9.7" fill="#262626" textLength="19.17" lengthAdjust="spacingAndGlyphs">O157</text>
</svg></body></html>
